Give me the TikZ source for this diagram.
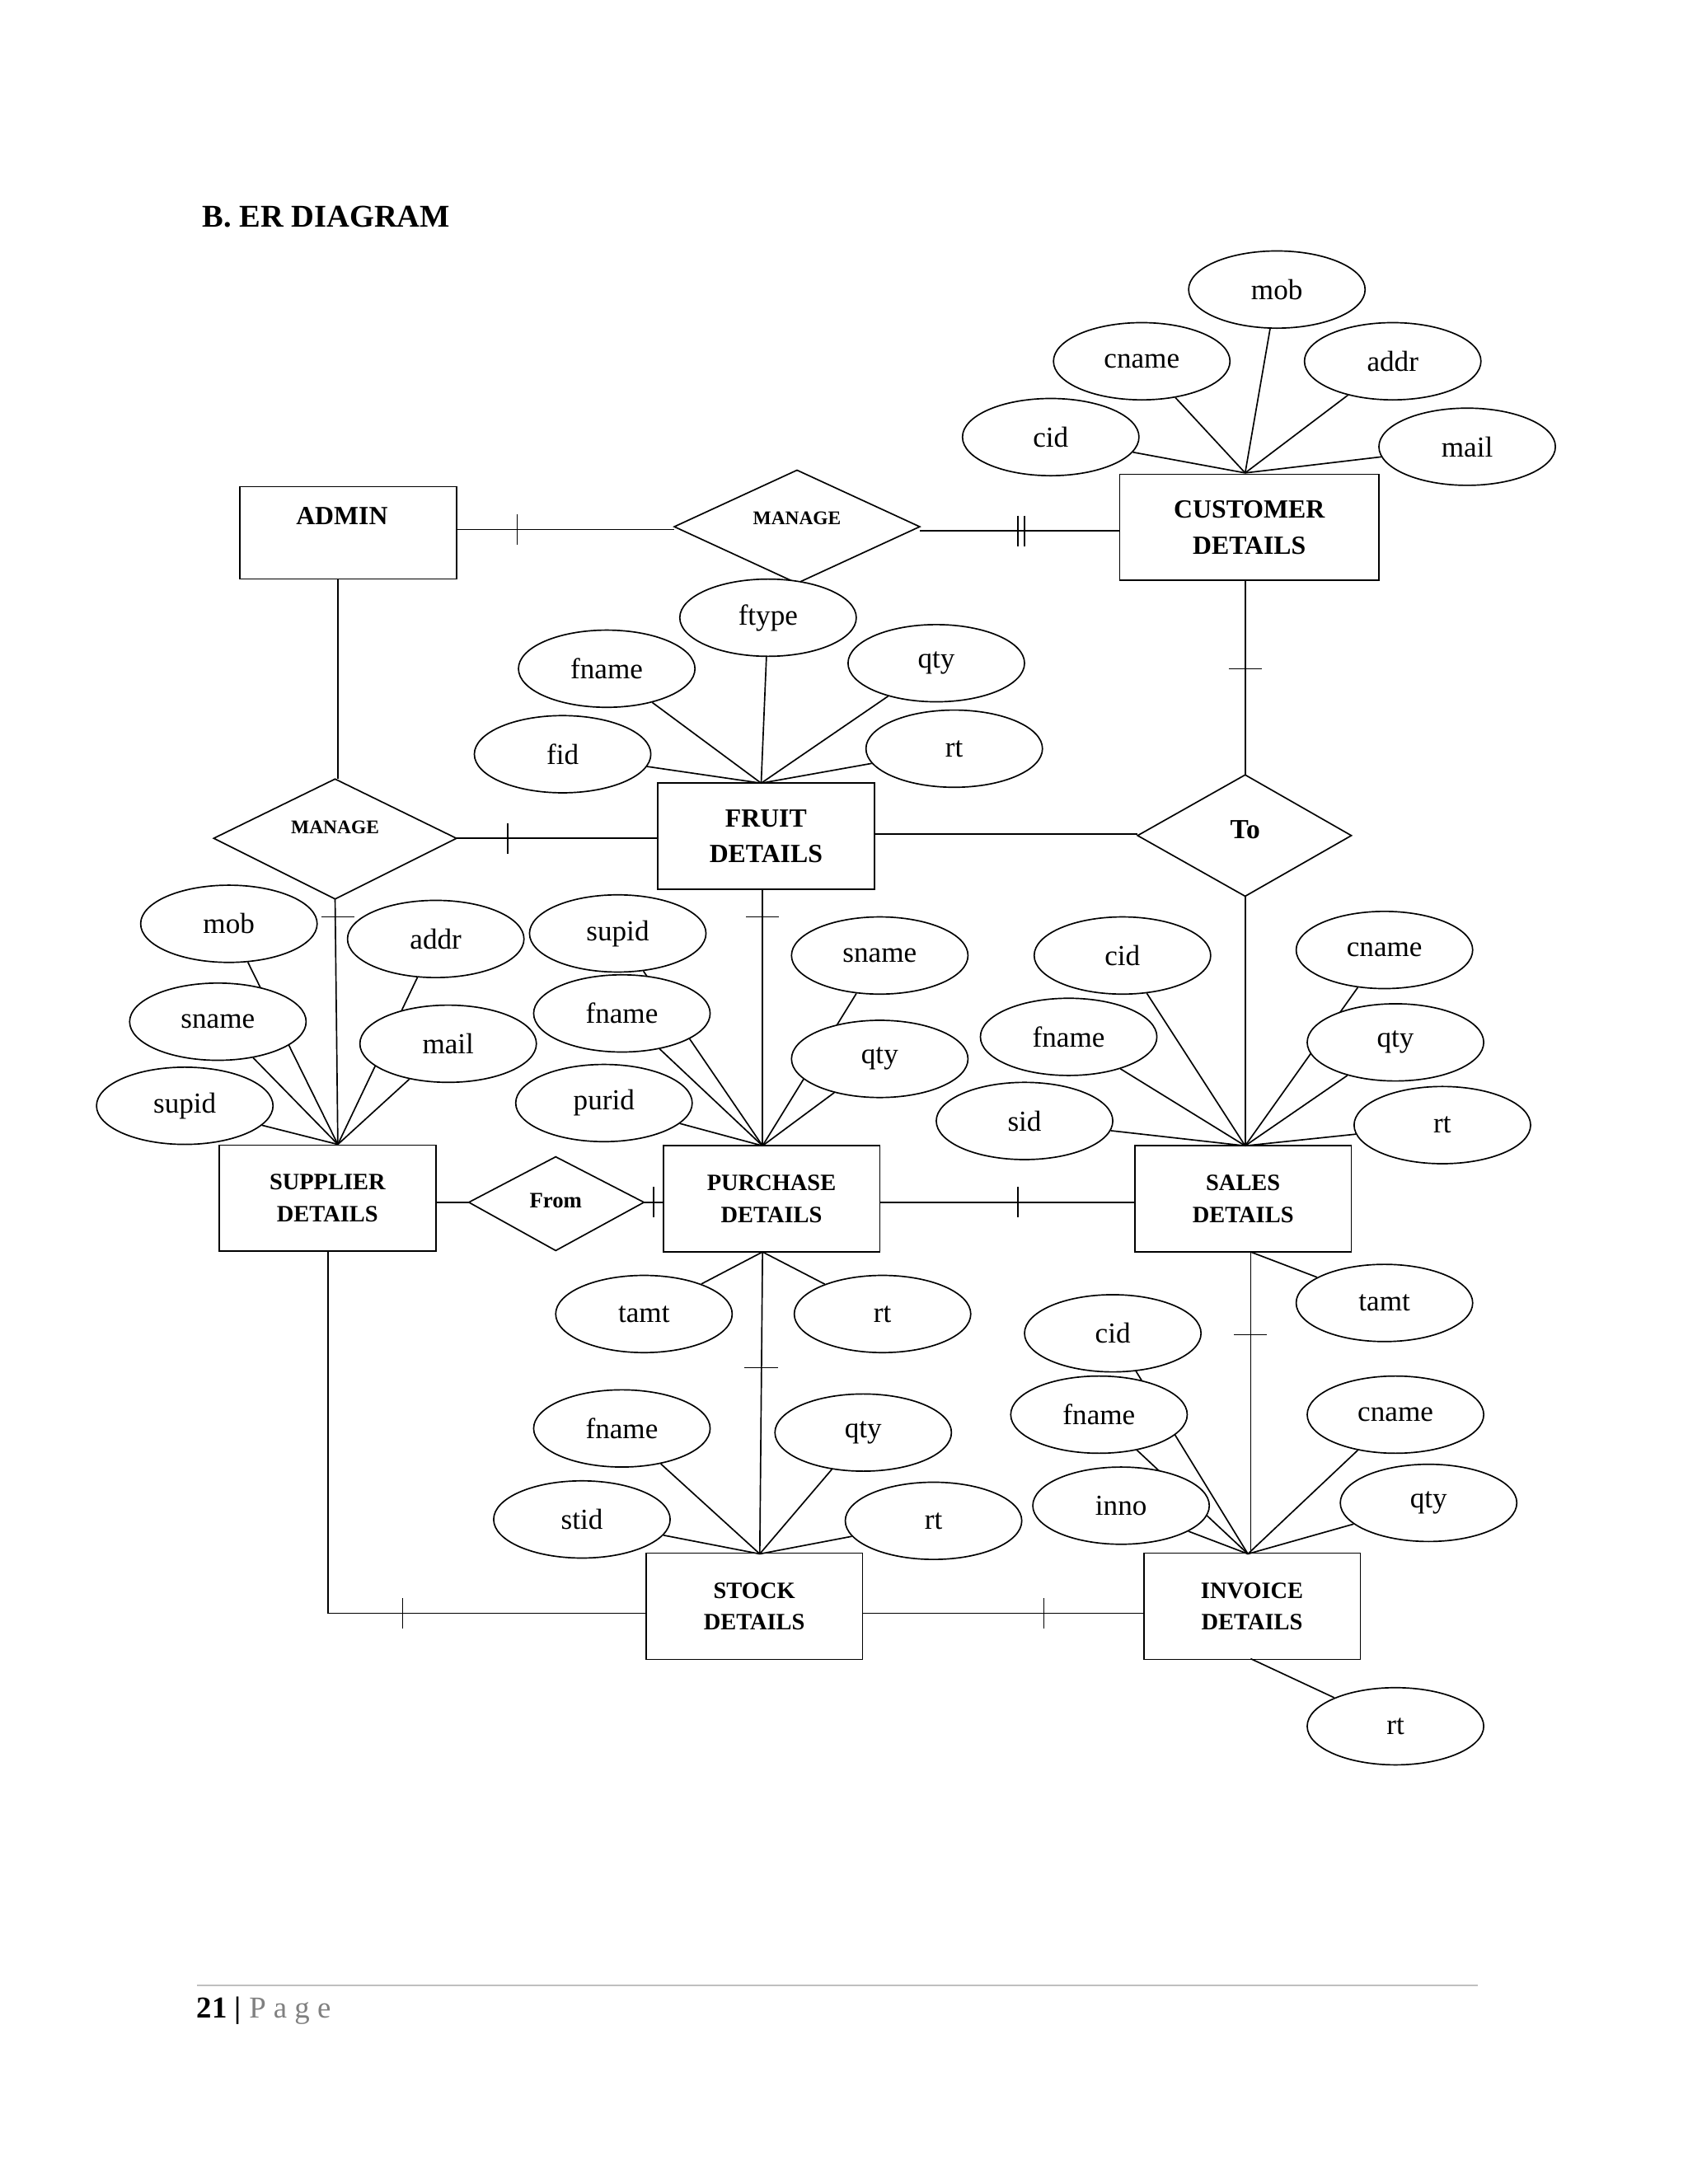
\documentclass[tikz,border=0pt]{standalone}
\usepackage{fontspec}
\setmainfont{Liberation Serif}
\usetikzlibrary{shapes.geometric}
\begin{document}
\begin{tikzpicture}[x=1pt,y=-1pt,
 att/.style={ellipse,draw,fill=white,minimum width=128pt,minimum height=56pt,inner sep=0pt,font=\fontsize{21}{24}\selectfont},
 ent/.style={draw,minimum width=157pt,minimum height=77pt,align=center,font=\bfseries\fontsize{19}{26}\selectfont},
 rel/.style={diamond,draw,fill=white,inner sep=0pt,font=\bfseries\fontsize{15}{18}\selectfont},
 line width=1pt]
\useasboundingbox (0,0) rectangle (1224,1584);
\node[anchor=west,font=\bfseries\fontsize{23}{26}\selectfont] (title) at (143,157) {B. ER DIAGRAM};
% entities
\node[ent,minimum height=67pt] (admin) at (252.5,386.5) {};
\node[font=\bfseries\fontsize{19}{22}\selectfont] (admint) at (248,374) {ADMIN};
\node[ent,minimum width=188pt] (cust) at (906,382.5) {CUSTOMER\\DETAILS};
\node[ent] (fruit) at (555.5,606.5) {FRUIT\\DETAILS};
\node[ent,font=\bfseries\fontsize{17}{23}\selectfont] (supp) at (237.5,869) {SUPPLIER\\DETAILS};
\node[ent,font=\bfseries\fontsize{17}{23}\selectfont] (purch) at (559.5,869.5) {PURCHASE\\DETAILS};
\node[ent,font=\bfseries\fontsize{17}{23}\selectfont] (sales) at (901.5,869.5) {SALES\\DETAILS};
\node[ent,font=\bfseries\fontsize{17}{23}\selectfont] (stock) at (547,1165) {STOCK\\DETAILS};
\node[ent,font=\bfseries\fontsize{17}{23}\selectfont] (inv) at (908,1165) {INVOICE\\DETAILS};
% relationships
\draw (489,382) -- (578,341) -- (667,382) -- (578,423) -- cycle;
\node[font=\bfseries\fontsize{14}{16}\selectfont] (man1) at (578,376) {MANAGE};
\draw (155,608) -- (243,565) -- (331,608) -- (243,652) -- cycle;
\node[font=\bfseries\fontsize{14}{16}\selectfont] (man2) at (243,600) {MANAGE};
\draw (825,606) -- (903,562) -- (980,606) -- (903,650) -- cycle;
\node[font=\bfseries\fontsize{20}{22}\selectfont] (to) at (903,602) {To};
\draw (340,872) -- (403,839) -- (467,872) -- (403,907) -- cycle;
\node[font=\bfseries\fontsize{16}{18}\selectfont] (from) at (403,871) {From};
% relationship lines
\draw (331,384) -- (489,384); \draw (375,373) -- (375,395);
\draw (667,385) -- (812,385); \draw (738,374) -- (738,396); \draw (743,374) -- (743,396);
\draw (903,421) -- (903,562); \draw (891,485) -- (915,485);
\draw (634,605) -- (825,605);
\draw (245,420) -- (245,565);
\draw (331,608) -- (477,608); \draw (368,597) -- (368,619);
\draw (553,645) -- (553,831); \draw (541,665) -- (565,665);
\draw (243,652) -- (245,830); \draw (233,665) -- (257,665);
\draw (316,872) -- (340,872); \draw (467,872) -- (481,872); \draw (474,861) -- (474,883);
\draw (638,872) -- (823,872); \draw (738,861) -- (738,883);
\draw (553,908) -- (551,1127); \draw (540,992) -- (564,992);
\draw (903,650) -- (903,831);
\draw (907,908) -- (907,1127); \draw (895,968) -- (919,968);
\draw (238,908) -- (238,1170) -- (468,1170); \draw (292,1159) -- (292,1181);
\draw (626,1170) -- (829,1170); \draw (757,1159) -- (757,1181);
% customer attrs
\coordinate (cp) at (903,343);
\foreach \n/\t/\x/\y in {c1/mob/926/210,c2/cname/828/262,c3/addr/1010/262,c4/cid/762/317,c5/mail/1064/324}{
 \node[att] (\n) at (\x,\y) {\t}; \draw (\n) -- (cp);}
% fruit attrs
\coordinate (fp) at (552,568);
\foreach \n/\t/\x/\y in {f1/fname/440/485,f2/qty/679/481,f3/fid/408/547,f4/rt/692/543}{
 \node[att] (\n) at (\x,\y) {\t}; \draw (\n) -- (fp);}
\node[att] (f0) at (557,448) {ftype}; \draw (f0) -- (fp);
% supplier attrs
\coordinate (sp) at (245,830);
\foreach \n/\t/\x/\y in {s1/mob/166/670,s2/addr/316/681,s3/sname/158/741,s4/mail/325/757,s5/supid/134/802}{
 \node[att] (\n) at (\x,\y) {\t}; \draw (\n) -- (sp);}
% purchase attrs
\coordinate (pp) at (553,831);
\foreach \n/\t/\x/\y in {p1/supid/448/677,p2/sname/638/693,p3/fname/451/735,p4/qty/638/768,p5/purid/438/800}{
 \node[att] (\n) at (\x,\y) {\t}; \draw (\n) -- (pp);}
\coordinate (pb) at (553,908);
\foreach \n/\t/\x/\y in {p6/tamt/467/953,p7/rt/640/953}{
 \node[att] (\n) at (\x,\y) {\t}; \draw (\n) -- (pb);}
% sales attrs
\coordinate (lp) at (903,831);
\foreach \n/\t/\x/\y in {l1/cid/814/693,l2/cname/1004/689,l3/fname/775/752,l4/qty/1012/756,l5/sid/743/813,l6/rt/1046/816}{
 \node[att] (\n) at (\x,\y) {\t}; \draw (\n) -- (lp);}
\coordinate (lb) at (907,908);
\node[att] (l7) at (1004,945) {tamt}; \draw (l7) -- (lb);
% stock attrs
\coordinate (tp) at (551,1127);
\foreach \n/\t/\x/\y in {t1/fname/451/1036,t2/qty/626/1039,t3/stid/422/1102,t4/rt/677/1103}{
 \node[att] (\n) at (\x,\y) {\t}; \draw (\n) -- (tp);}
% invoice attrs
\coordinate (ip) at (905,1127);
\foreach \n/\t/\x/\y in {i1/cid/807/967,i2/fname/797/1026,i3/cname/1012/1026,i4/inno/813/1092,i5/qty/1036/1090}{
 \node[att] (\n) at (\x,\y) {\t}; \draw (\n) -- (ip);}
\coordinate (ib) at (907,1203);
\node[att] (i6) at (1012,1252) {rt}; \draw (i6) -- (ib);
% footer
\draw[gray!50,line width=0.8pt] (143,1440) -- (1072,1440);
\node[anchor=west,font=\fontsize{22}{24}\selectfont] (foot) at (139,1458) {\textbf{21 |} \textcolor{gray}{P a g e}};
\end{tikzpicture}
\end{document}
